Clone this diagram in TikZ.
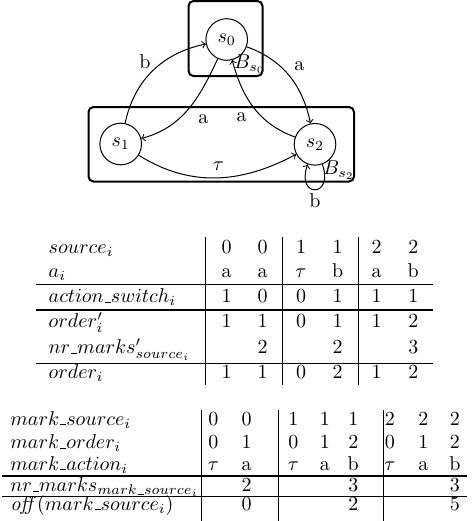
\documentclass[tikz,border=0pt]{standalone}
\usetikzlibrary{calc}
\newcommand\usc{\kern.06em\vbox{\hrule width.3em}}
\begin{document}
\begin{tikzpicture}[x=0.5pt,y=-0.5pt,
  state/.style={circle,draw,line width=0.5pt,minimum size=20.8pt,inner sep=0pt},
  blockbox/.style={draw,line width=1pt,rounded corners=2.5pt},
  trans/.style={->,line width=0.5pt},
  lbl/.style={inner sep=0pt},
  cell/.style={anchor=base,inner sep=0pt},
  rowlbl/.style={anchor=base west,inner sep=0pt},
  rule/.style={line width=0.6pt}]
\useasboundingbox (0,0) rectangle (474,521);
% blocks
\draw[blockbox] (188.5,1) rectangle (262.5,76);
\draw[blockbox] (88.5,107) rectangle (354,181.5);
% states
\node[state] (s0) at (226.7,39.5) {$s_0$};
\node[state] (s1) at (120.7,144) {$s_1$};
\node[state] (s2) at (315,144.3) {$s_2$};
% transitions
\draw[trans] (s1) to[out=78,in=192] (s0);
\draw[trans] (s0) to[out=245,in=15] (s1);
\draw[trans] (s0) to[out=-20,in=102] (s2);
\draw[trans] (s2) to[out=160,in=-75] (s0);
\draw[trans] (s1) to[out=-32,in=-152] (s2);
\draw[trans] (s2.-70) .. controls +(-70:18pt) and +(-110:18pt) .. (s2.-110);
% labels
\node[lbl] (lb1) at (145,62) {b};
\node[lbl] (la1) at (299.3,66) {a};
\node[lbl] (la2) at (203.3,119) {a};
\node[lbl] (la3) at (241.7,117) {a};
\node[lbl] (ltau) at (218.3,166.5) {$\tau$};
\node[lbl] (lb2) at (315,201) {b};
\node[lbl] (B0) at (250,64) {$B_{s_0}$};
\node[lbl] (B2) at (339,170) {$B_{s_2}$};
% ---------- table 1 ----------
\node[rowlbl] (L1) at (48.3,253.3) {$source_i$};
\node[rowlbl] (L2) at (48.3,277.7) {$a_i$};
\node[rowlbl] (L3) at (48.3,302.3) {$action\usc switch_i$};
\node[rowlbl] (L4) at (48.3,327.7) {$order'_i$};
\node[rowlbl] (L5) at (48.3,353.3) {$nr\usc marks'_{source_i}$};
\node[rowlbl] (L6) at (48.3,378.3) {$order_i$};
\foreach \x/\v [count=\c] in {226.7/0,262.7/0,301/1,337.7/1,376.7/2,413.3/2}
  \node[cell] (A1\c) at (\x,253.3) {\v};
\foreach \x/\v [count=\c] in {226.7/a,262.7/a,301/$\tau$,337.7/b,376.7/a,413.3/b}
  \node[cell] (A2\c) at (\x,277.7) {\v};
\foreach \x/\v [count=\c] in {226.7/1,262.7/0,301/0,337.7/1,376.7/1,413.3/1}
  \node[cell] (A3\c) at (\x,302.3) {\v};
\foreach \x/\v [count=\c] in {226.7/1,262.7/1,301/0,337.7/1,376.7/1,413.3/2}
  \node[cell] (A4\c) at (\x,327.7) {\v};
\foreach \x/\v [count=\c] in {262.7/2,337.7/2,413.3/3}
  \node[cell] (A5\c) at (\x,353.3) {\v};
\foreach \x/\v [count=\c] in {226.7/1,262.7/1,301/0,337.7/2,376.7/1,413.3/2}
  \node[cell] (A6\c) at (\x,378.3) {\v};
\foreach \yy in {284.3,310,363.3}
  \draw[rule] (36,\yy) -- (433.3,\yy);
\foreach \xx in {205.7,282.7,358.3}
  \draw[rule] (\xx,236.7) -- (\xx,385);
% ---------- table 2 ----------
\node[rowlbl] (M1) at (10,425) {$mark\usc source_i$};
\node[rowlbl] (M2) at (10,448.3) {$mark\usc order_i$};
\node[rowlbl] (M3) at (10,470) {$mark\usc action_i$};
\node[rowlbl] (M4) at (10,491.7) {$nr\usc marks_{mark\usc source_i}$};
\node[rowlbl] (M5) at (10,510) {$\mathit{off}(mark\usc source_i)$};
\foreach \x/\v [count=\c] in {213.3/0,246.7/0,293.3/1,325/1,353.3/1,390/2,423.3/2,455/2}
  \node[cell] (B1\c) at (\x,425) {\v};
\foreach \x/\v [count=\c] in {213.3/0,246.7/1,293.3/0,325/1,353.3/2,390/0,423.3/1,455/2}
  \node[cell] (B2\c) at (\x,448.3) {\v};
\foreach \x/\v [count=\c] in {213.3/$\tau$,246.7/a,293.3/$\tau$,325/a,353.3/b,390/$\tau$,423.3/a,455/b}
  \node[cell] (B3\c) at (\x,470) {\v};
\foreach \x/\v [count=\c] in {246.7/2,353.3/3,455/3}
  \node[cell] (B4\c) at (\x,491.7) {\v};
\foreach \x/\v [count=\c] in {246.7/0,353.3/2,455/5}
  \node[cell] (B5\c) at (\x,510) {\v};
\foreach \yy in {476,496.7}
  \draw[rule] (2,\yy) -- (466.7,\yy);
\foreach \xx in {201.7,278.3,383.3}
  \draw[rule] (\xx,410) -- (\xx,521);
\end{tikzpicture}
\end{document}
